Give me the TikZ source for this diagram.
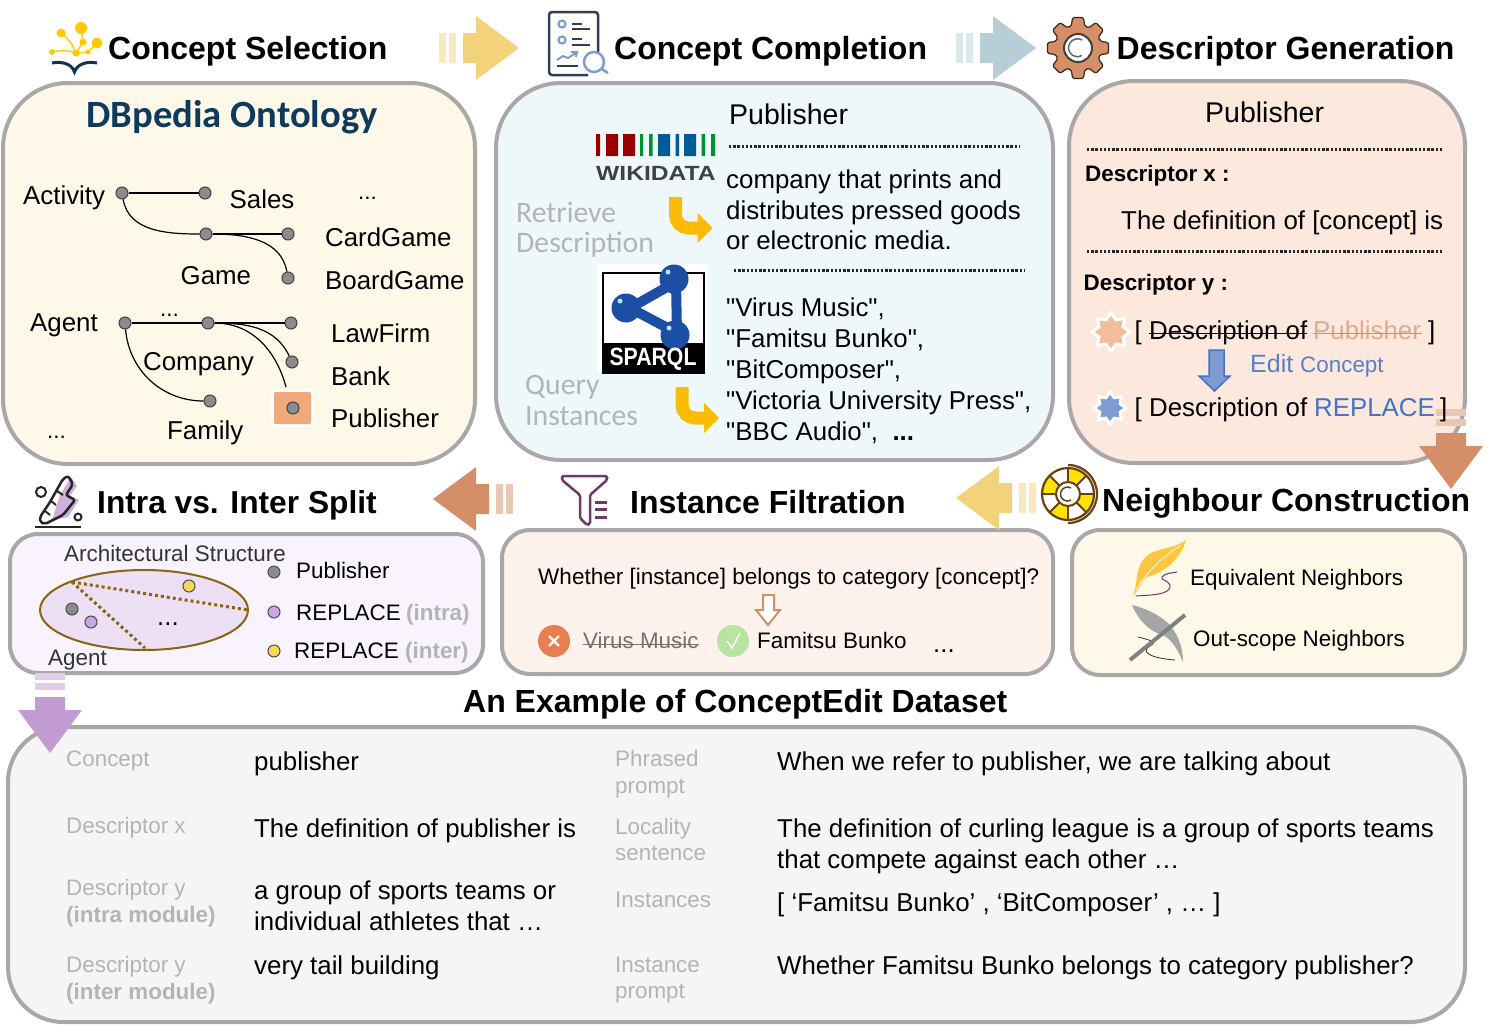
\documentclass[tikz,border=0pt]{standalone}
\usepackage{fontspec}
\setmainfont{Liberation Sans}
\newfontfamily\plainfont{Liberation Sans}
\newfontfamily\carlito{Carlito}
\usetikzlibrary{calc,shapes.geometric}
\definecolor{panelgrey}{HTML}{A9A7A7}
\definecolor{arrowyellow}{HTML}{F2D27A}
\definecolor{arrowblue}{HTML}{B7CED6}
\definecolor{arroworange}{HTML}{D48F68}
\definecolor{arrowpurple}{HTML}{C39BD3}
\definecolor{bentyellow}{HTML}{FBBC05}
\definecolor{labelgrey}{HTML}{B4B4B4}
\definecolor{editblue}{HTML}{4472C4}
\definecolor{navy}{HTML}{15324F}
\definecolor{titleblue}{HTML}{0E3A5C}
\definecolor{iconblue}{HTML}{7F9BD1}
\definecolor{icondark}{HTML}{2F3E55}
\definecolor{ringbrown}{HTML}{6B3F10}
\definecolor{funnel}{HTML}{6B3B66}
\definecolor{sparqlblue}{HTML}{1C4FA3}
\definecolor{fillcream}{HTML}{FDF8E8}
\definecolor{fillice}{HTML}{EEF7FA}
\definecolor{fillpeach}{HTML}{FCE8DC}
\definecolor{filllilac}{HTML}{F8F3FC}
\definecolor{fillblush}{HTML}{FDF3EC}
\definecolor{fillmauve}{HTML}{ECDFF6}
\definecolor{dotpurplec}{HTML}{C9A6E4}
\definecolor{dotyellowc}{HTML}{FBD65A}
\definecolor{squareorange}{HTML}{F0A97A}
\definecolor{starorange}{HTML}{F3BD9C}
\definecolor{rejectred}{HTML}{E97F50}
\definecolor{acceptgreen}{HTML}{B7E4A0}
\tikzset{
  panel/.style={draw=panelgrey,line width=4pt},
  headtext/.style={anchor=base west,inner sep=0pt,font=\bfseries\fontsize{32}{36}\selectfont},
  bodytext/.style={anchor=base west,inner sep=0pt,font=\fontsize{25.85}{30}\selectfont},
  quotetext/.style={bodytext,font=\plainfont\fontsize{25.85}{30}\selectfont},
  smalltext/.style={anchor=base west,inner sep=0pt,font=\fontsize{22.4}{26}\selectfont},
  boldtext/.style={anchor=base west,inner sep=0pt,font=\bfseries\fontsize{22.4}{26}\selectfont},
  greytext/.style={smalltext,text=labelgrey},
  greybold/.style={boldtext,text=labelgrey},
  softtext/.style={anchor=base west,inner sep=0pt,text=labelgrey,font=\carlito\fontsize{29.7}{32}\selectfont},
  leaf/.style={circle,draw=black!75,fill=black!45,line width=1pt,minimum size=12pt,inner sep=0pt},
  dotline/.style={line width=3pt,dash pattern=on 2.4pt off 1.8pt,black!85},
  pics/flowarrow/.style={code={
    \fill[#1!50] (-37,-15) rectangle (-30,15);
    \fill[#1!50] (-27,-15) rectangle (-20,15);
    \fill[#1] (-13,-15) -- (0,-15) -- (0,-32) -- (43,0) -- (0,32) -- (0,15) -- (-13,15) -- cycle;
  }},
  pics/bentarrow/.style={code={
    \draw[bentyellow,line width=13pt,rounded corners=13pt] (0,0) -- (0,31) -- (24,31);
    \fill[bentyellow] (22,16) -- (37,31) -- (22,46) -- cycle;
  }},
  starmark/.style={star,star points=8,star point ratio=1.45,draw=white,line width=3pt,inner sep=0pt,minimum size=#1}
}
\begin{document}
\begin{tikzpicture}[x=1pt,y=-1pt]
  \useasboundingbox (0,0) rectangle (1492,1026);
  % panels
  \draw[panel,fill=fillcream,rounded corners=65pt] (3,83) rectangle (475,464);
  \draw[panel,fill=fillice,rounded corners=65pt] (496,83) rectangle (1053,460);
  \draw[panel,fill=fillpeach,rounded corners=65pt] (1069,81) rectangle (1465,463);
  \draw[panel,fill=filllilac,rounded corners=28pt] (10,534) rectangle (483,673);
  \draw[panel,fill=fillblush,rounded corners=28pt] (502,530) rectangle (1053,674);
  \draw[panel,fill=fillcream,rounded corners=28pt] (1072,530) rectangle (1465,675);
  \draw[panel,fill=black!4,rounded corners=55pt] (8,727) rectangle (1465,1022);

  % flow arrows
  \pic at (476,48) {flowarrow=arrowyellow};
  \pic at (993,48) {flowarrow=arrowblue};
  \pic[rotate=-90] at (1451,446) {flowarrow=arroworange};
  \pic[rotate=180] at (999,498) {flowarrow=arrowyellow};
  \pic[rotate=180] at (476,499) {flowarrow=arroworange};
  \pic[rotate=-90] at (50,710) {flowarrow=arrowpurple};

  % headings
  \node[headtext] (selection) at (108,59) {Concept Selection};
  \node[headtext] (completion) at (614,59) {Concept Completion};
  \node[headtext] (generation) at (1116.5,59) {Descriptor Generation};
  \node[headtext,font=\bfseries\fontsize{31.7}{36}\selectfont] (split) at (97,513) {Intra vs. Inter Split};
  \node[headtext] (filtration) at (630,513) {Instance Filtration};
  \node[headtext] (construction) at (1102,511.5) {Neighbour Construction};
  \node[headtext] (example) at (463,712) {An Example of ConceptEdit Dataset};

  % concept selection icon
  \draw[bentyellow!70!yellow,line width=1.5pt] (52,52) to[bend left=15] (76,53);
  \draw[bentyellow!70!yellow,line width=1.5pt] (61,33) to[bend left=15] (76,53);
  \draw[bentyellow!70!yellow,line width=1.5pt] (81,28) -- (83,42) -- (76,53);
  \draw[bentyellow!70!yellow,line width=1.5pt] (97,43) -- (88,52) -- (76,53);
  \fill[bentyellow!80!yellow] (61,33) circle (4.5) (81,28) circle (6) (97,43) circle (5.5) (83,42) circle (3.5) (76,53) circle (3.5) (52,52) circle (3) (88,52) circle (2.5);
  \draw[navy,line width=3pt] (52,63) .. controls (62,61) and (72,64) .. (74.5,72) .. controls (77,64) and (87,61) .. (97,63);

  % concept completion icon
  \draw[icondark,line width=2.5pt,rounded corners=3pt] (598,52) -- (598,12) -- (549,12) -- (549,75) -- (588,75);
  \draw[iconblue,line width=2.2pt] (562,24) circle (3.5) (562,40) circle (3.5);
  \draw[icondark,line width=2pt] (572,24) -- (582,24) (572,29) -- (590,29) (572,39) -- (582,39) (572,45) -- (590,45) (557,66) -- (578,66);
  \draw[iconblue,line width=2pt] (557,60) -- (563,56) -- (568,58) -- (576,53) (571,52) -- (577,52) -- (576,57);
  \draw[iconblue,line width=2.5pt] (594,62) circle (10) (602,69) -- (608,73);

  % gear
  \draw[fill=arroworange,draw=black!70!brown,line width=1.2pt,rounded corners=1.5pt]
    ([shift={(1078,48)}]-17:23)
    \foreach \a in {0,45,...,315} { -- ([shift={(1078,48)}]\a-17:23) -- ([shift={(1078,48)}]\a-10:31) -- ([shift={(1078,48)}]\a+10:31) -- ([shift={(1078,48)}]\a+17:23) } -- cycle;
  \draw[fill=white,draw=black!75,line width=2pt] (1078,48) circle (14);
  \draw[black!60,line width=1.5pt] (1082,40) arc[start angle=60,end angle=300,radius=9pt];

  % ring icon
  \fill[white] (1068,494) circle (26);
  \begin{scope}
    \clip (1068,494) circle (26);
    \foreach \a in {-90,0,90,180}
      \fill[yellow!85!orange] (1068,494) -- ([shift={(1068,494)}]\a:40) -- ([shift={(1068,494)}]\a+45:40) -- cycle;
  \end{scope}
  \foreach \a in {0,90,180,270,45,135,225,315}
    \draw[ringbrown,line width=2pt] (1068,494) -- ([shift={(1068,494)}]\a:26);
  \draw[ringbrown,line width=2.2pt] (1068,494) circle (26);
  \draw[ringbrown,fill=white,line width=2pt] (1068,494) circle (12);
  \draw[ringbrown,line width=1.5pt] (1071,488) arc[start angle=60,end angle=300,radius=7pt];
  \draw[ringbrown,line width=2.2pt] (1068,465) arc[start angle=90,end angle=-90,radius=29pt];

  % knife
  \fill[arrowpurple!80] (71,477) -- (77,486) -- (70,496) -- (79,500) -- (68,517) -- (52,520) -- (60,495) -- cycle;
  \draw[black!85,line width=2.5pt,rounded corners=2pt] (68,476) -- (73,484) -- (66,495) -- (75,500) -- (63,515) -- (45,524) -- (40,522) -- (40,517) -- (50,502) -- (63,479) -- cycle;
  \draw[black!85,line width=2pt] (57,491) -- (63,495) (51,501) -- (56,505) (45,511) -- (50,515);
  \draw[black!85,line width=2pt] (41,492) circle (5) (78,517) circle (3.5);
  \draw[black!85,line width=2.5pt] (35,527) -- (81,527);

  % funnel
  \draw[funnel,line width=2.5pt,rounded corners=1.5pt] (562,476) -- (607,476) -- (607,480) -- (590,495) -- (590,524) -- (587,525) -- (580,518) -- (580,495) -- (562,480) -- cycle;
  \draw[funnel,line width=3pt] (595,502) -- (607,502) (595,509) -- (607,509) (595,517) -- (607,517);

  % ontology panel
  \node[anchor=base,inner sep=0pt,text=titleblue,font=\carlito\bfseries\fontsize{38.6}{42}\selectfont] (ontology) at (232,127) {DBpedia Ontology};
  \draw[fill=white,draw=white,rounded corners=3pt] (271,389) rectangle (314,427);
  \fill[fill=squareorange,rounded corners=2pt] (274,392) rectangle (311,424);
  \node[leaf] (activity) at (122,193) {};
  \node[leaf] (sales) at (205,193) {};
  \node[leaf] (game) at (206,234) {};
  \node[leaf] (cardgame) at (288,234) {};
  \node[leaf] (boardgame) at (288,278) {};
  \node[leaf] (agent) at (125,323) {};
  \node[leaf] (company) at (208,323) {};
  \node[leaf] (lawfirm) at (291,323) {};
  \node[leaf] (bank) at (292,362) {};
  \node[leaf] (family) at (210,401) {};
  \node[leaf] (publisher) at (293,408) {};
  \coordinate (pubtop) at (286,387);
  \draw[line width=1.2pt] (activity)--(sales);
  \draw[line width=1.2pt] (activity) to[out=-80,in=180] (game);
  \draw[line width=1.2pt] (game)--(cardgame);
  \draw[line width=1.2pt] (game) to[out=0,in=100] (boardgame);
  \draw[line width=1.2pt] (agent)--(company);
  \draw[line width=1.2pt] (company)--(lawfirm);
  \draw[line width=1.2pt] (company) to[out=0,in=115] (bank);
  \draw[line width=1.2pt] (company) to[out=0,in=105] (pubtop);
  \draw[line width=1.2pt] (agent) to[out=-85,in=180] (family);
  \node[bodytext] (activitytext) at (23,204) {Activity};
  \node[bodytext] (salestext) at (229.5,208) {Sales};
  \node[smalltext] (dotsa) at (358,199) {...};
  \node[bodytext] (cardgametext) at (325,246.5) {CardGame};
  \node[bodytext] (gametext) at (180.5,284) {Game};
  \node[bodytext] (boardgametext) at (325,289) {BoardGame};
  \node[smalltext] (dotsb) at (160,316) {...};
  \node[bodytext] (agenttext) at (30,331) {Agent};
  \node[bodytext] (companytext) at (143,370.5) {Company};
  \node[bodytext] (lawfirmtext) at (331,342) {LawFirm};
  \node[bodytext] (banktext) at (331,385) {Bank};
  \node[bodytext] (publishertext) at (331,427.5) {Publisher};
  \node[bodytext] (familytext) at (167,439) {Family};
  \node[smalltext] (dotsc) at (47,438) {...};

  % completion panel
  \node[bodytext,font=\fontsize{28.5}{32}\selectfont] (comptitle) at (729,124) {Publisher};
  \draw[dotline] (729,146) -- (1020,146);
  \draw[dotline] (734,270) -- (1025,270);
  \fill[red!60!black] (596,134) rectangle (600,156) (606,134) rectangle (618,156) (623,134) rectangle (635,156);
  \fill[green!50!teal!75!black] (640,134) rectangle (643,156) (649,134) rectangle (652.5,156) (701.5,134) rectangle (705,156) (711,134) rectangle (715,156);
  \fill[blue!40!cyan!60!black] (658,134) rectangle (670,156) (675.5,134) rectangle (679,156) (684,134) rectangle (696,156);
  \node[anchor=base west,inner sep=0pt,text=black!75,xscale=1.2,transform shape,font=\bfseries\fontsize{20.5}{24}\selectfont] (wikidata) at (596,180) {WIKIDATA};
  \pic at (675.5,197) {bentarrow};
  \pic at (682,387) {bentarrow};
  \node[softtext] (retrieve) at (516,222) {Retrieve};
  \node[softtext] (description) at (516,252) {Description};
  \node[softtext] (query) at (525,394) {Query};
  \node[softtext] (instances) at (525,425) {Instances};
  \node[bodytext] (compa) at (726,188) {company that prints and};
  \node[bodytext] (compb) at (726,219) {distributes pressed goods};
  \node[bodytext] (compc) at (726,249) {or electronic media.};
  \node[quotetext] (insta) at (726,316) {"Virus Music",};
  \node[quotetext] (instb) at (726,347) {"Famitsu Bunko",};
  \node[quotetext] (instc) at (726,378) {"BitComposer",};
  \node[quotetext] (instd) at (726,409) {"Victoria University Press",};
  \node[quotetext] (inste) at (726,440) {"BBC Audio",\ \ \textbf{...}};

  % sparql logo
  \fill[white] (597,264) rectangle (708,373);
  \draw[black,line width=2pt] (603,273) rectangle (704,373);
  \fill[black] (602,343) rectangle (705,374);
  \draw[sparqlblue,line width=10pt,line join=round] (676,282) -- (630,308) -- (677,333) -- cycle;
  \fill[sparqlblue] (674,279) circle (14.5) (626,308) circle (14.5) (675,335) circle (14.5);
  \fill[white!70!cyan] (668,272) circle (2.5) (620,301) circle (2.5) (669,328) circle (2.5);
  \node[inner sep=0pt,text=white,xscale=.85,transform shape,font=\bfseries\fontsize{25}{28}\selectfont] (sparql) at (653,359) {SPARQL};

  % generation panel
  \node[bodytext,font=\fontsize{28.5}{32}\selectfont] (gentitle) at (1205,122.5) {Publisher};
  \draw[dotline] (1087,149) -- (1443,149);
  \draw[dotline] (1087,251) -- (1443,251);
  \node[boldtext] (descx) at (1085,181) {Descriptor x :};
  \node[bodytext] (definition) at (1121,229.5) {The definition of [concept] is};
  \node[boldtext] (descy) at (1083.5,290) {Descriptor y :};
  \node[starmark=38pt,fill=starorange] (oldstar) at (1111,332) {};
  \node[starmark=32pt,fill=iconblue] (newstar) at (1110,408) {};
  \node[bodytext] (oldopen) at (1134.5,339.5) {[};
  \node[bodytext] (olddesc) at (1149,339.5) {Description of};
  \node[bodytext,text=arroworange!75!white] (oldconcept) at (1313,339.5) {Publisher};
  \node[bodytext] (oldclose) at (1428,339.5) {]};
  \draw[line width=1.5pt] ([yshift=3.5pt]olddesc.mid west) -- ([yshift=3.5pt]olddesc.mid east);
  \draw[arroworange,line width=1.5pt] ([yshift=3.5pt]oldconcept.mid west) -- ([yshift=3.5pt,xshift=1pt]oldconcept.mid east);
  \draw[draw=editblue,fill=iconblue,line width=1.5pt] (1209,350) -- (1224,350) -- (1224,376) -- (1230,376) -- (1214.5,391) -- (1199,376) -- (1209,376) -- cycle;
  \node[anchor=base west,inner sep=0pt,text=editblue!90!white,font=\fontsize{25}{28}\selectfont] (edit) at (1250,372) {Edit {\fontsize{22.4}{26}\selectfont Concept}};
  \node[bodytext] (newopen) at (1134.5,416.5) {[};
  \node[bodytext] (newdesc) at (1149,416.5) {Description of};
  \node[bodytext,text=editblue] (replace) at (1314,416.5) {REPLACE};
  \node[bodytext] (newclose) at (1440,416.5) {]};

  % split panel
  \node[smalltext,text=black!80] (architecture) at (64,561) {Architectural Structure};
  \node[smalltext,text=black!80] (agentarea) at (48,665) {Agent};
  \draw[fill=fillmauve,draw=ringbrown!80!yellow,line width=2pt] (144,610) ellipse (104 and 40);
  \coordinate (cuttop) at (72,582);
  \coordinate (cutright) at (248,610);
  \coordinate (cutbottom) at (145,648);
  \draw[ringbrown!80!yellow,line width=3pt,dash pattern=on 3pt off 3pt] (cuttop) -- (cutright);
  \draw[ringbrown!80!yellow,line width=3pt,dash pattern=on 3pt off 3pt] (cuttop) -- (cutbottom);
  \tikzset{
    dotgrey/.style={leaf,draw=black!70,fill=black!45},
    dotpurple/.style={leaf,draw=black!70,fill=dotpurplec},
    dotyellow/.style={leaf,draw=black!70,fill=dotyellowc}
  }
  \node[dotgrey] (ingrey) at (72,609) {};
  \node[dotpurple] (inpurple) at (91,622) {};
  \node[dotyellow] (inyellow) at (189,586) {};
  \node[dotgrey] (keygrey) at (274,572) {};
  \node[dotpurple] (keypurple) at (274,612) {};
  \node[dotyellow] (keyyellow) at (274,651) {};
  \node[bodytext] (dotsd) at (157,625) {...};
  \node[smalltext] (keypub) at (296,578) {Publisher};
  \node[smalltext] (keyintra) at (296,620) {REPLACE};
  \node[greybold] (intra) at (406,620) {(intra)};
  \node[smalltext] (keyinter) at (294,658) {REPLACE};
  \node[greybold] (inter) at (405,658) {(inter)};

  % filtration panel
  \node[smalltext,font=\fontsize{22.53}{26}\selectfont] (whether) at (538,584) {Whether [instance] belongs to category [concept]?};
  \draw[draw=arroworange,fill=white,line width=2pt] (763,595) -- (774,595) -- (774,610) -- (780,610) -- (768,625) -- (756,610) -- (763,610) -- cycle;
  \node[circle,fill=rejectred,minimum size=32pt,inner sep=0pt] (reject) at (554,641) {};
  \draw[white,line width=2.2pt] ([shift={(554,641)}]45:7) -- ([shift={(554,641)}]225:7) ([shift={(554,641)}]135:7) -- ([shift={(554,641)}]315:7);
  \node[greytext,text=black!55] (virus) at (583,648) {Virus Music};
  \draw[black!55,line width=1.4pt] ([yshift=1pt]virus.mid west) -- ([yshift=1pt]virus.mid east);
  \node[circle,fill=acceptgreen,minimum size=32pt,inner sep=0pt] (accept) at (733,641) {};
  \draw[white,line width=1.5pt] (727,641) -- (732,648) -- (740,633);
  \node[smalltext] (famitsu) at (757,648) {Famitsu Bunko};
  \node[bodytext] (dotse) at (933,652) {...};

  % neighbour panel
  \fill[orange!60!yellow!75!white] (1186,540) .. controls (1170,552) and (1150,545) .. (1140,565) .. controls (1136,575) and (1137,585) .. (1133,596) .. controls (1142,585) and (1142,580) .. (1147,577) .. controls (1165,572) and (1180,560) .. (1186,540) -- cycle;
  \draw[white,line width=.7pt] (1136,590) .. controls (1145,575) and (1160,558) .. (1180,546);
  \draw[funnel,line width=1pt] (1136,596) .. controls (1150,595) and (1172,595) .. (1170,585) .. controls (1168,580) and (1160,580) .. (1162,577) .. controls (1165,573) and (1172,573) .. (1177,572);
  \fill[black!35] (1132,605) .. controls (1145,608) and (1160,615) .. (1170,625) .. controls (1180,638) and (1183,650) .. (1183,662) .. controls (1178,650) and (1172,640) .. (1163,635) .. controls (1150,632) and (1138,620) .. (1132,605) -- cycle;
  \draw[black!80,line width=.8pt] (1138,637) .. controls (1150,640) and (1158,642) .. (1150,646) .. controls (1140,652) and (1150,658) .. (1175,660);
  \draw[black!50,line width=4pt] (1130,660) -- (1185,615);
  \node[smalltext] (equivalent) at (1190,585) {Equivalent Neighbors};
  \node[smalltext] (outscope) at (1193,646) {Out-scope Neighbors};

  % dataset panel
  \node[greytext] (lconcept) at (66,766) {Concept};
  \node[greytext] (ldescx) at (66,833) {Descriptor x};
  \node[greytext] (ldescy) at (66,895) {Descriptor y};
  \node[greybold] (lintra) at (66,922) {(intra module)};
  \node[greytext] (ldescz) at (66,972) {Descriptor y};
  \node[greybold] (linter) at (66,999) {(inter module)};
  \node[bodytext] (vconcept) at (254,770) {publisher};
  \node[bodytext] (vdescx) at (254,837) {The definition of publisher is};
  \node[bodytext] (vintra) at (254,899) {a group of sports teams or};
  \node[bodytext] (vintrb) at (254,930) {individual athletes that …};
  \node[bodytext] (vinter) at (254,974) {very tail building};
  \node[greytext] (lphrased) at (615,766) {Phrased};
  \node[greytext] (lprompta) at (615,793) {prompt};
  \node[greytext] (llocality) at (615,834) {Locality};
  \node[greytext] (lsentence) at (615,860) {sentence};
  \node[greytext] (linstances) at (615,907) {Instances};
  \node[greytext] (linstance) at (615,972) {Instance};
  \node[greytext] (lpromptb) at (615,998) {prompt};
  \node[bodytext] (vphrased) at (777,770) {When we refer to publisher, we are talking about};
  \node[bodytext] (vlocala) at (777,837) {The definition of curling league is a group of sports teams};
  \node[bodytext] (vlocalb) at (777,868) {that compete against each other …};
  \node[bodytext] (vinst) at (777,911) {[ ‘Famitsu Bunko’ , ‘BitComposer’ , … ]};
  \node[bodytext] (vprompt) at (777,974) {Whether Famitsu Bunko belongs to category publisher?};
\end{tikzpicture}
\end{document}
